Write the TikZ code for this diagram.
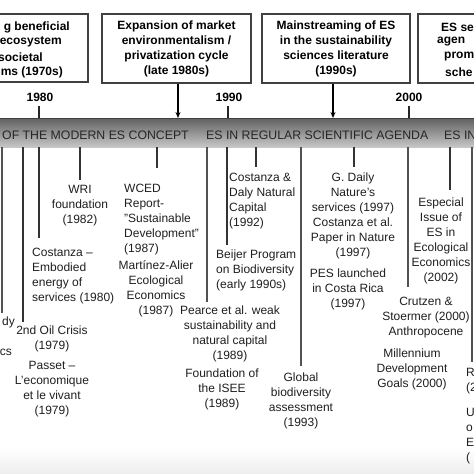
\documentclass[tikz,border=0pt]{standalone}
\usepackage{fontspec}
\setmainfont{Liberation Sans}
\usetikzlibrary{arrows.meta}
\begin{document}
\begin{tikzpicture}[x=1pt,y=-1pt,
  lbl/.style={font=\fontsize{12}{15}\selectfont, inner sep=0pt, align=center, anchor=north, text=black!88},
  lbll/.style={lbl, align=left, anchor=north west},
  topbox/.style={draw=black!75, line width=1.2pt, fill=white, inner sep=0pt, font=\bfseries\fontsize{12}{15}\selectfont, align=center},
  toptxt/.style={font=\bfseries\fontsize{12}{15}\selectfont, inner sep=0pt},
  conn/.style={draw=black!80, line width=1.3pt},
  heavyconn/.style={draw=black!68, line width=2.4pt},
  tickline/.style={draw=black!85, line width=1.3pt},
  arr/.style={draw=black, line width=1.1pt, -{Stealth[length=6pt,width=5pt]}},
  yearlbl/.style={font=\bfseries\fontsize{12}{14}\selectfont, inner sep=0pt},
  bandtxt/.style={font=\fontsize{12.3}{14}\selectfont, text=black!85, inner sep=0pt, anchor=west}
]
\useasboundingbox (0,0) rectangle (474,474);
\clip (0,0) rectangle (474,474);
\fill[white] (0,0) rectangle (474,474);
\shade[top color=white, bottom color=black!7] (0,448) rectangle (474,474);

% top boxes
\node[topbox, minimum width=98pt, minimum height=68pt] (b1) at (39,48) {};
\node[toptxt, anchor=east] (b1a) at (70,27) {g beneficial};
\node[toptxt, anchor=east] (b1b) at (62,42) {ecosystem};
\node[toptxt, anchor=east] (b1c) at (43,57) {societal};
\node[toptxt, anchor=east] (b1d) at (63,72) {ms (1970s)};

\node[topbox, minimum width=149pt, minimum height=69pt] (b2) at (176.5,48.5)
  {Expansion of market\\environmentalism /\\privatization cycle\\(late 1980s)};
\node[topbox, minimum width=148pt, minimum height=69pt] (b3) at (336,48.5)
  {Mainstreaming of ES\\in the sustainability\\sciences literature\\(1990s)};
\node[topbox, minimum width=90pt, minimum height=69pt] (b4) at (463,48.5) {};
\node[toptxt, anchor=west] (b4a) at (441,27) {ES se};
\node[toptxt, anchor=west] (b4b) at (437,42) {agen};
\node[toptxt, anchor=west] (b4c) at (444,57) {prom};
\node[toptxt, anchor=west] (b4d) at (445,72) {sche};

% band
\node[anchor=north west, minimum width=494pt, minimum height=29pt, inner sep=0pt,
      top color=black!62, bottom color=black!22, draw=none] (band) at (-10,118) {};
\draw[black!75, line width=0.8pt] (band.north west) -- (band.north east);
\node[bandtxt] (p1) at (2,135) {OF THE MODERN ES CONCEPT};
\node[bandtxt] (p2) at (206,135) {ES IN REGULAR SCIENTIFIC AGENDA};
\node[bandtxt] (p3) at (444,135) {ES IN};

% years and ticks
\node[yearlbl] (y80) at (40,97) {1980};
\node[yearlbl] (y90) at (229,97) {1990};
\node[yearlbl] (y00) at (409,97) {2000};
\coordinate (t80) at (39,106);
\coordinate (t90) at (228,106);
\coordinate (t00) at (409,106);
\draw[tickline] (band.north -| t80) -- (t80);
\draw[tickline] (band.north -| t90) -- (t90);
\draw[tickline] (band.north -| t00) -- (t00);

% arrows from boxes
\coordinate (a2) at (178,0);
\coordinate (a3) at (333,0);
\draw[arr] (b2.south -| a2) -- (band.north -| a2);
\draw[arr] (b3.south -| a3) -- (band.north -| a3);

% connectors
\coordinate (e0) at (2,313);
\coordinate (e1) at (23,322);
\coordinate (e2) at (39,238);
\coordinate (e3) at (80,180);
\coordinate (e4) at (157,168);
\coordinate (e5) at (207,302);
\coordinate (e6) at (227,245);
\coordinate (e7) at (256,167);
\coordinate (e8) at (301,366);
\coordinate (e9) at (354,167);
\coordinate (e10) at (408,287);
\coordinate (e11) at (450,190);
\coordinate (e12) at (472,362);
\draw[heavyconn] (band.south -| e0) -- (e0);
\draw[conn] (band.south -| e1) -- (e1);
\draw[conn] (band.south -| e2) -- (e2);
\draw[conn] (band.south -| e3) -- (e3);
\draw[conn] (band.south -| e4) -- (e4);
\draw[heavyconn] (band.south -| e5) -- (e5);
\draw[conn] (band.south -| e6) -- (e6);
\draw[conn] (band.south -| e7) -- (e7);
\draw[heavyconn] (band.south -| e8) -- (e8);
\draw[conn] (band.south -| e9) -- (e9);
\draw[heavyconn] (band.south -| e10) -- (e10);
\draw[conn] (band.south -| e11) -- (e11);
\draw[heavyconn] (band.south -| e12) -- (e12);

% labels
\node[lbl, anchor=east] (l0a) at (15,322) {dy};
\node[lbl, anchor=east] (l0b) at (12,352) {cs};
\node[lbl] (oil) at (52,325.5) {2nd Oil Crisis\\(1979)};
\node[lbl] (passet) at (52,361.5) {Passet –\\L'economique\\et le vivant\\(1979)};
\node[lbll] (cost1) at (32,247.5) {Costanza –\\Embodied\\energy of\\services (1980)};
\node[lbl] (wri) at (80,185.5) {WRI\\foundation\\(1982)};
\node[lbll] (wced) at (124,183.5) {WCED\\Report-\\"Sustainable\\Development"\\(1987)};
\node[lbl] (mart) at (156,260.5) {Martínez-Alier\\Ecological\\Economics\\(1987)};
\node[lbl] (pearce) at (230,305.5) {Pearce et al. weak\\sustainability and\\natural capital\\(1989)};
\node[lbl] (isee) at (222,368.5) {Foundation of\\the ISEE\\(1989)};
\node[lbll] (beijer) at (216,249.5) {Beijer Program\\on Biodiversity\\(early 1990s)};
\node[lbll] (cdaly) at (229,172.5) {Costanza \&\\Daly Natural\\Capital\\(1992)};
\node[lbl] (gba) at (301,372.5) {Global\\biodiversity\\assessment\\(1993)};
\node[lbl] (daily) at (353,172.5) {G. Daily\\Nature's\\services (1997)\\Costanza et al.\\Paper in Nature\\(1997)};
\node[lbl] (pes) at (348,268.5) {PES launched\\in Costa Rica\\(1997)};
\node[lbl] (crutzen) at (426,296.5) {Crutzen \&\\Stoermer (2000)\\Anthropocene};
\node[lbl] (mdg) at (412,348.5) {Millennium\\Development\\Goals (2000)};
\node[lbl] (esp) at (441,197.5) {Especial\\Issue of\\ES in\\Ecological\\Economics\\(2002)};
\node[lbll] (r1) at (466,368.5) {R\\(2};
\node[lbll] (r2) at (466,408.5) {U\\o\\E\\(};
\end{tikzpicture}
\end{document}
